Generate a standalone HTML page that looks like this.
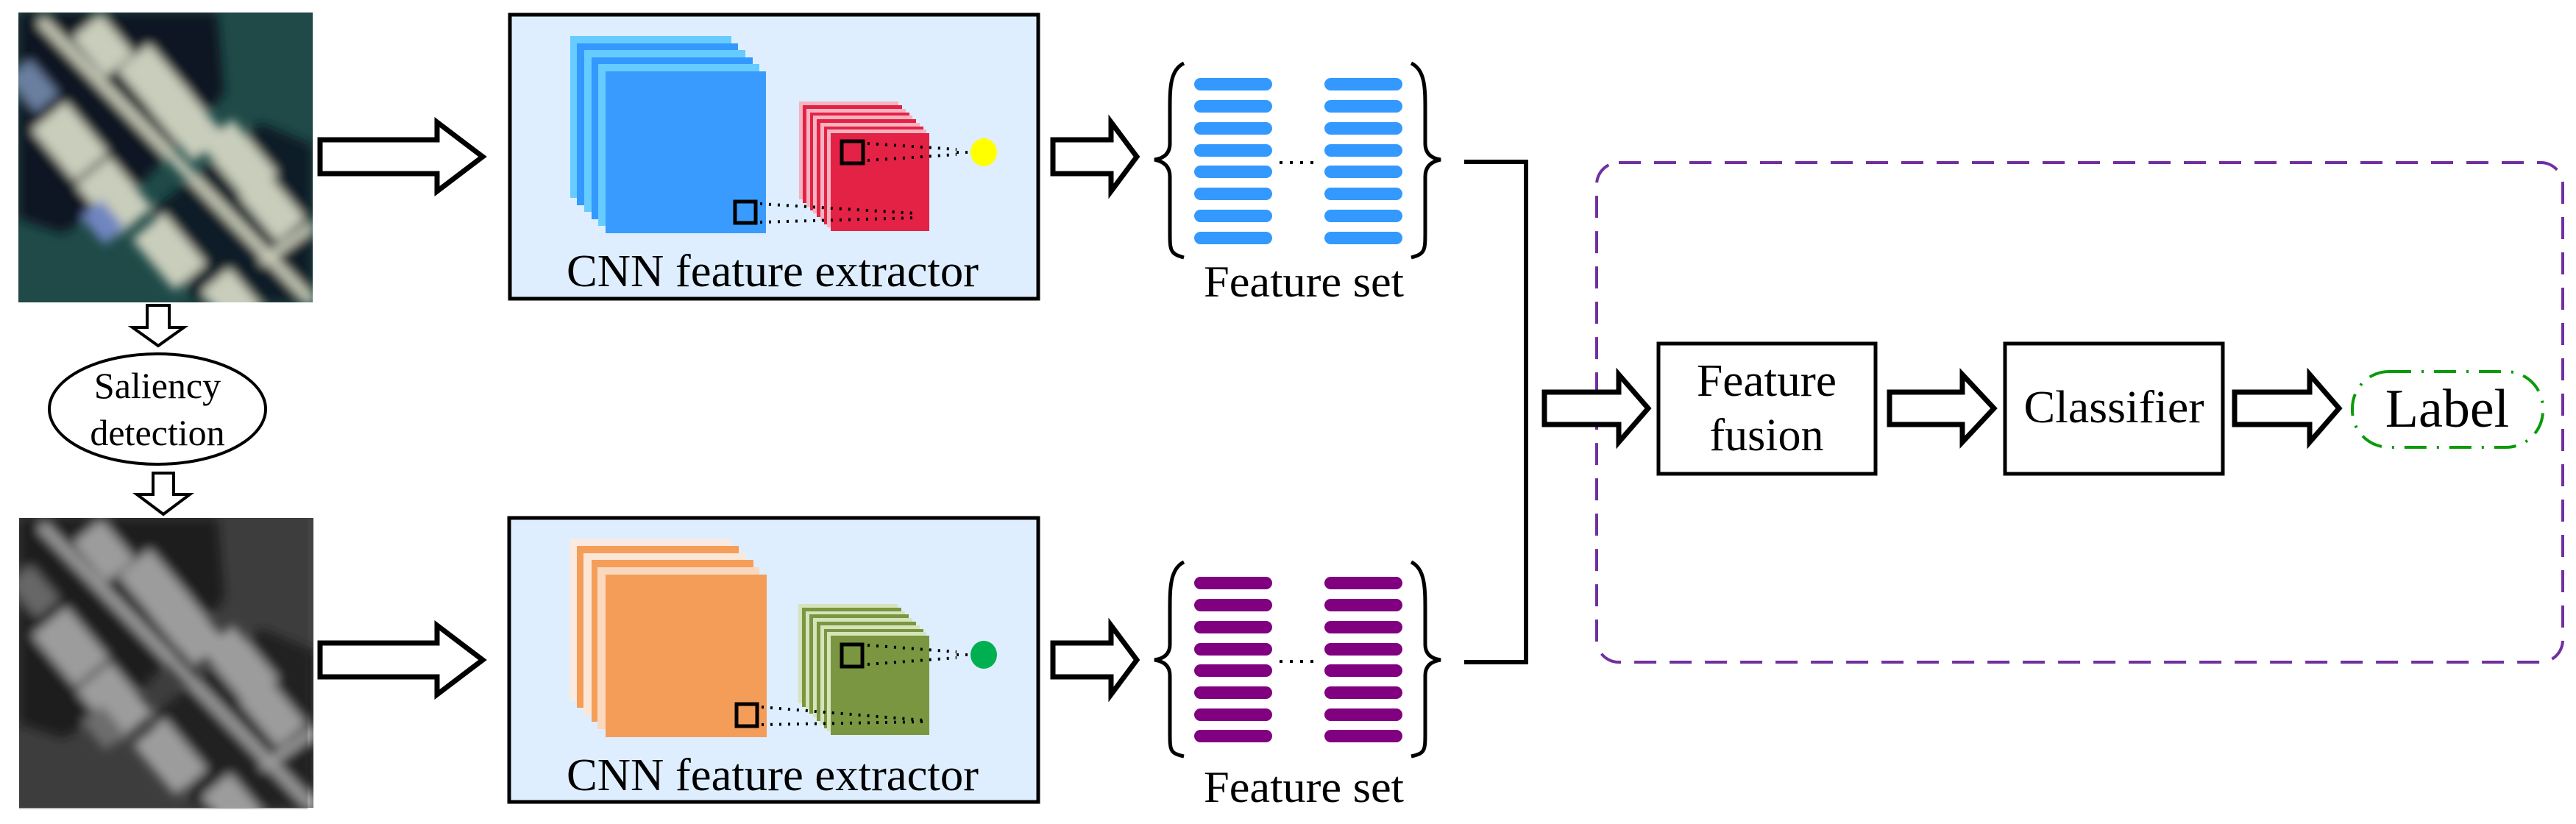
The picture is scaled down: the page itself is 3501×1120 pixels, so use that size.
<!DOCTYPE html>
<html><head><meta charset="utf-8"><style>html,body{margin:0;padding:0;background:#fff}svg{display:block}svg text{font-family:"Liberation Serif","Times New Roman",Times,"DejaVu Serif",serif !important}</style></head>
<body>
<svg width="3501" height="1120" viewBox="0 0 3501 1120" xmlns="http://www.w3.org/2000/svg">
<defs>
<clipPath id="pc"><rect x="0" y="0" width="400" height="394"/></clipPath>
<filter id="gray"><feColorMatrix type="saturate" values="0"/></filter>
<filter id="bl"><feGaussianBlur stdDeviation="7"/></filter>
<g id="photo">
 <g clip-path="url(#pc)">
  <rect x="0" y="0" width="400" height="394" fill="#1f4a48"/>
  <g filter="url(#bl)">
   <polygon points="0,0 270,0 280,110 160,240 60,300 0,280" fill="#0c1520"/>
   <polygon points="180,270 330,150 400,180 400,394 240,394" fill="#0e1a26"/>
   <line x1="30" y1="10" x2="400" y2="394" stroke="#c8cbb8" stroke-width="14"/>
   <line x1="330" y1="340" x2="400" y2="290" stroke="#c8cbb8" stroke-width="12"/>
   <g fill="#c9cdbb">
    <rect x="-25" y="-35" width="50" height="70" transform="translate(115,45) rotate(-40)"/>
    <rect x="-28" y="-45" width="56" height="90" transform="translate(185,95) rotate(-40)"/>
    <rect x="-28" y="-45" width="56" height="90" transform="translate(230,150) rotate(-40)"/>
    <rect x="-30" y="-45" width="60" height="90" transform="translate(70,175) rotate(-40)"/>
    <rect x="-30" y="-45" width="60" height="90" transform="translate(130,250) rotate(-40)"/>
    <rect x="-28" y="-48" width="56" height="96" transform="translate(300,200) rotate(-40)"/>
    <rect x="-25" y="-40" width="50" height="80" transform="translate(345,265) rotate(-40)"/>
    <rect x="-28" y="-45" width="56" height="90" transform="translate(205,325) rotate(-40)"/>
    <rect x="-25" y="-35" width="50" height="70" transform="translate(290,390) rotate(-40)"/>
   </g>
   <rect x="-18" y="-25" width="36" height="50" fill="#6f86c0" transform="translate(115,285) rotate(-40)"/>
   <rect x="-20" y="-30" width="40" height="60" fill="#6b7fa0" transform="translate(20,100) rotate(-40)"/>
  </g>
 </g>
</g>
</defs>

<use href="#photo" x="25" y="17"/>
<g filter="url(#gray)"><use href="#photo" x="26" y="704"/></g>
<rect x="26" y="704" width="392" height="396" fill="#333" opacity="0.3"/>

<polygon points="200,415 230,415 230,445 250,445 215,470 180,445 200,445" fill="#fff" stroke="#000" stroke-width="4"/>
<ellipse cx="214" cy="556" rx="147" ry="75" fill="#fff" stroke="#000" stroke-width="4"/>
<text x="214" y="541" font-size="50" text-anchor="middle" font-family="Liberation Serif, Times New Roman, serif">Saliency</text>
<text x="214" y="605" font-size="50" text-anchor="middle" font-family="Liberation Serif, Times New Roman, serif">detection</text>
<polygon points="208,643 236,643 236,672 258,672 222,699 186,672 208,672" fill="#fff" stroke="#000" stroke-width="4"/>

<polygon points="435,190 594,190 594,166 656,213 594,260 594,236 435,236" fill="#fff" stroke="#000" stroke-width="7"/>
<polygon points="435,874 594,874 594,850 656,897 594,944 594,920 435,920" fill="#fff" stroke="#000" stroke-width="7"/>

<rect x="693" y="20" width="718" height="386" fill="#deeefe" stroke="#000" stroke-width="5"/>
<g>
 <rect x="775" y="49" width="219" height="220" fill="#66ccff"/>
 <rect x="784" y="59" width="219" height="220" fill="#3399ff"/>
 <rect x="794" y="68" width="219" height="220" fill="#66ccff"/>
 <rect x="804" y="78" width="219" height="220" fill="#3399ff"/>
 <rect x="813" y="87" width="219" height="220" fill="#66ccff"/>
 <rect x="823" y="97" width="218" height="220" fill="#3a9bff"/>
</g>
<g>
 <rect x="1086" y="138" width="135" height="133" fill="#f6b3c0"/>
 <rect x="1091" y="143" width="135" height="133" fill="#e32245"/>
 <rect x="1096" y="148" width="135" height="133" fill="#f6b3c0"/>
 <rect x="1101" y="153" width="135" height="133" fill="#e32245"/>
 <rect x="1105" y="157" width="135" height="133" fill="#f6b3c0"/>
 <rect x="1110" y="162" width="135" height="133" fill="#e32245"/>
 <rect x="1115" y="167" width="135" height="133" fill="#f6b3c0"/>
 <rect x="1120" y="172" width="135" height="133" fill="#e32245"/>
 <rect x="1124" y="176" width="135" height="133" fill="#f6b3c0"/>
 <rect x="1129" y="181" width="134" height="133" fill="#e32245"/>
</g>
<rect x="999" y="274" width="28" height="29" fill="none" stroke="#000" stroke-width="5"/>
<g stroke="#000" stroke-width="4" stroke-dasharray="3 9" fill="none">
 <line x1="1033" y1="277" x2="1245" y2="290"/>
 <line x1="1033" y1="302" x2="1245" y2="296"/>
 <line x1="1179" y1="195" x2="1300" y2="203"/>
 <line x1="1179" y1="218" x2="1300" y2="210"/>
 <line x1="1300" y1="207" x2="1316" y2="207"/>
</g>
<rect x="1144" y="192" width="29" height="30" fill="none" stroke="#000" stroke-width="5"/>
<ellipse cx="1337" cy="207" rx="18" ry="19" fill="#ffff00"/>
<text x="1050" y="389" font-size="62" text-anchor="middle" textLength="560" lengthAdjust="spacingAndGlyphs" font-family="Liberation Serif, Times New Roman, serif">CNN feature extractor</text>

<rect x="692" y="704" width="719" height="386" fill="#deeefe" stroke="#000" stroke-width="5"/>
<g>
 <rect x="774" y="733" width="220" height="220" fill="#fbeadf"/>
 <rect x="784" y="742" width="220" height="220" fill="#f49e59"/>
 <rect x="793" y="752" width="220" height="220" fill="#fce7d6"/>
 <rect x="804" y="761" width="220" height="220" fill="#f49e59"/>
 <rect x="812" y="771" width="220" height="220" fill="#fad8bd"/>
 <rect x="823" y="781" width="219" height="221" fill="#f49d59"/>
</g>
<g>
 <rect x="1085" y="821" width="135" height="135" fill="#d5e4bb"/>
 <rect x="1090" y="826" width="135" height="135" fill="#7a9640"/>
 <rect x="1095" y="831" width="135" height="135" fill="#d5e4bb"/>
 <rect x="1100" y="835" width="135" height="135" fill="#7a9640"/>
 <rect x="1105" y="840" width="135" height="135" fill="#d5e4bb"/>
 <rect x="1110" y="845" width="135" height="135" fill="#7a9640"/>
 <rect x="1115" y="850" width="135" height="135" fill="#d5e4bb"/>
 <rect x="1120" y="855" width="135" height="135" fill="#7a9640"/>
 <rect x="1124" y="859" width="135" height="135" fill="#d5e4bb"/>
 <rect x="1129" y="864" width="134" height="135" fill="#7a9640"/>
</g>
<rect x="1001" y="957" width="28" height="30" fill="none" stroke="#000" stroke-width="5"/>
<g stroke="#000" stroke-width="4" stroke-dasharray="3 9" fill="none">
 <line x1="1035" y1="961" x2="1255" y2="979"/>
 <line x1="1035" y1="985" x2="1255" y2="981"/>
 <line x1="1179" y1="877" x2="1300" y2="886"/>
 <line x1="1179" y1="903" x2="1300" y2="894"/>
 <line x1="1300" y1="890" x2="1316" y2="890"/>
</g>
<rect x="1144" y="876" width="28" height="30" fill="none" stroke="#000" stroke-width="5"/>
<ellipse cx="1337" cy="890" rx="18" ry="19" fill="#00b050"/>
<text x="1050" y="1074" font-size="62" text-anchor="middle" textLength="560" lengthAdjust="spacingAndGlyphs" font-family="Liberation Serif, Times New Roman, serif">CNN feature extractor</text>

<polygon points="1431,190 1510,190 1510,166 1545,213 1510,260 1510,236 1431,236" fill="#fff" stroke="#000" stroke-width="7"/>
<polygon points="1431,874 1510,874 1510,850 1545,897 1510,944 1510,920 1431,920" fill="#fff" stroke="#000" stroke-width="7"/>

<g fill="none" stroke="#000" stroke-width="5">
 <path d="M1609,86 C1590,95 1590,120 1590,150 L1590,195 Q1590,214 1569,217 Q1590,221 1590,240 L1590,315 C1590,340 1590,345 1609,350"/>
 <path d="M1918,86 C1937,95 1937,120 1937,150 L1937,195 Q1937,214 1958,217 Q1937,221 1937,240 L1937,315 C1937,340 1937,345 1918,350"/>
 <path d="M1609,764 C1590,773 1590,800 1590,830 L1590,876 Q1590,894 1569,897 Q1590,900 1590,918 L1590,995 C1590,1020 1590,1024 1609,1028"/>
 <path d="M1918,764 C1937,773 1937,800 1937,830 L1937,876 Q1937,894 1958,897 Q1937,900 1937,918 L1937,995 C1937,1020 1937,1024 1918,1028"/>
</g>
<g fill="#3399ff">
 <rect x="1623" y="106" width="106" height="17" rx="8.5"/><rect x="1800" y="106" width="106" height="17" rx="8.5"/>
 <rect x="1623" y="136" width="106" height="17" rx="8.5"/><rect x="1800" y="136" width="106" height="17" rx="8.5"/>
 <rect x="1623" y="166" width="106" height="17" rx="8.5"/><rect x="1800" y="166" width="106" height="17" rx="8.5"/>
 <rect x="1623" y="196" width="106" height="17" rx="8.5"/><rect x="1800" y="196" width="106" height="17" rx="8.5"/>
 <rect x="1623" y="225" width="106" height="17" rx="8.5"/><rect x="1800" y="225" width="106" height="17" rx="8.5"/>
 <rect x="1623" y="255" width="106" height="17" rx="8.5"/><rect x="1800" y="255" width="106" height="17" rx="8.5"/>
 <rect x="1623" y="285" width="106" height="17" rx="8.5"/><rect x="1800" y="285" width="106" height="17" rx="8.5"/>
 <rect x="1623" y="315" width="106" height="17" rx="8.5"/><rect x="1800" y="315" width="106" height="17" rx="8.5"/>
</g>
<g fill="#800080">
 <rect x="1623" y="784" width="106" height="17" rx="8.5"/><rect x="1800" y="784" width="106" height="17" rx="8.5"/>
 <rect x="1623" y="814" width="106" height="17" rx="8.5"/><rect x="1800" y="814" width="106" height="17" rx="8.5"/>
 <rect x="1623" y="844" width="106" height="17" rx="8.5"/><rect x="1800" y="844" width="106" height="17" rx="8.5"/>
 <rect x="1623" y="874" width="106" height="17" rx="8.5"/><rect x="1800" y="874" width="106" height="17" rx="8.5"/>
 <rect x="1623" y="903" width="106" height="17" rx="8.5"/><rect x="1800" y="903" width="106" height="17" rx="8.5"/>
 <rect x="1623" y="933" width="106" height="17" rx="8.5"/><rect x="1800" y="933" width="106" height="17" rx="8.5"/>
 <rect x="1623" y="963" width="106" height="17" rx="8.5"/><rect x="1800" y="963" width="106" height="17" rx="8.5"/>
 <rect x="1623" y="992" width="106" height="17" rx="8.5"/><rect x="1800" y="992" width="106" height="17" rx="8.5"/>
</g>
<g stroke="#000" stroke-width="4" stroke-dasharray="4 10"><line x1="1739" y1="221" x2="1790" y2="221"/><line x1="1739" y1="899" x2="1790" y2="899"/></g>
<text x="1772" y="403" font-size="60" text-anchor="middle" textLength="272" lengthAdjust="spacingAndGlyphs" font-family="Liberation Serif, Times New Roman, serif">Feature set</text>
<text x="1772" y="1090" font-size="60" text-anchor="middle" textLength="272" lengthAdjust="spacingAndGlyphs" font-family="Liberation Serif, Times New Roman, serif">Feature set</text>

<polyline points="1990,220 2074,220 2074,900 1990,900" fill="none" stroke="#000" stroke-width="6"/>

<rect x="2170" y="221" width="1313" height="679" rx="30" fill="none" stroke="#7030a0" stroke-width="4" stroke-dasharray="30 18"/>

<polygon points="2099,533 2200,533 2200,509 2240,555 2200,601 2200,577 2099,577" fill="#fff" stroke="#000" stroke-width="7"/>
<rect x="2254" y="467" width="295" height="177" fill="#fff" stroke="#000" stroke-width="5"/>
<text x="2401" y="538" font-size="62" text-anchor="middle" textLength="190" lengthAdjust="spacingAndGlyphs" font-family="Liberation Serif, Times New Roman, serif">Feature</text>
<text x="2401" y="612" font-size="62" text-anchor="middle" textLength="155" lengthAdjust="spacingAndGlyphs" font-family="Liberation Serif, Times New Roman, serif">fusion</text>
<polygon points="2568,533 2667,533 2667,509 2710,555 2667,601 2667,577 2568,577" fill="#fff" stroke="#000" stroke-width="7"/>
<rect x="2725" y="467" width="296" height="177" fill="#fff" stroke="#000" stroke-width="5"/>
<text x="2873" y="574" font-size="62" text-anchor="middle" textLength="245" lengthAdjust="spacingAndGlyphs" font-family="Liberation Serif, Times New Roman, serif">Classifier</text>
<polygon points="3037,533 3139,533 3139,509 3179,555 3139,601 3139,577 3037,577" fill="#fff" stroke="#000" stroke-width="7"/>
<rect x="3197" y="505" width="259" height="103" rx="50" fill="#fff" stroke="#0a9a0a" stroke-width="4" stroke-dasharray="30 14 3 14"/>
<text x="3326" y="580" font-size="74" text-anchor="middle" font-family="Liberation Serif, Times New Roman, serif">Label</text>
</svg>
</body></html>
